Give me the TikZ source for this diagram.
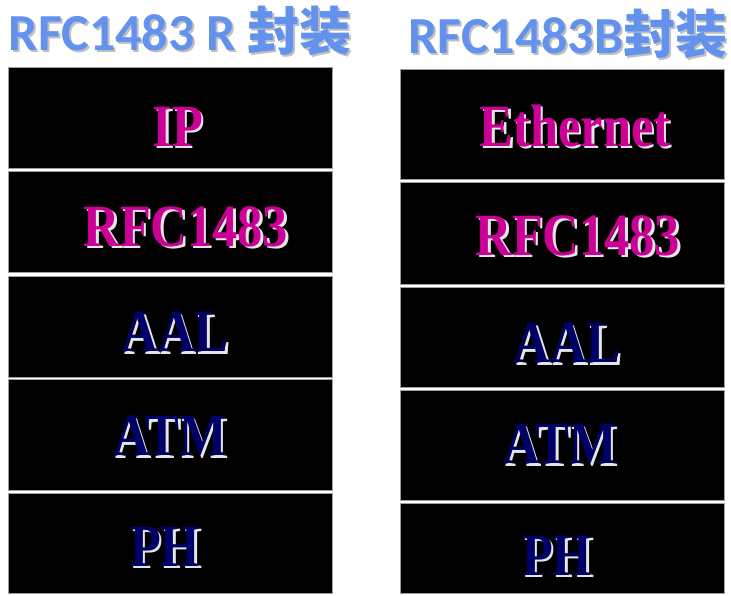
\documentclass[tikz,border=0pt]{standalone}
\usepackage{fontspec}
\usepackage{tikz}
\usetikzlibrary{positioning}

\setmainfont{Liberation Serif}
\newfontfamily\layerfont[FakeStretch=0.84]{Liberation Serif}
\newfontfamily\titlefont{Carlito}
\newfontfamily\cjkfont{Noto Sans CJK SC}

\definecolor{titleblue}{RGB}{98,146,238}
\definecolor{upperpink}{RGB}{204,0,150}
\definecolor{lowernavy}{RGB}{0,0,105}

% text with a light shade behind it, in one box
\newcommand{\shadetext}[4]{%
    \makebox[0pt][l]{\hspace*{#1}\raisebox{-#1}{\textcolor{#2}{#4}}}\textcolor{#3}{#4}}

\begin{document}
\begin{tikzpicture}[x=1pt, y=-1pt]

    % Define the styles for the nodes
    \tikzstyle{layer} = [draw=gray!75, line width=0.8pt, fill=black, minimum width=324, inner sep=0, anchor=north west]
    \tikzstyle{layertext} = [font=\layerfont\bfseries\fontsize{60}{62}\selectfont, inner sep=0]
    \tikzstyle{heading} = [font=\titlefont\bfseries\fontsize{52}{56}\selectfont, inner sep=0]

    \useasboundingbox (0,0) rectangle (731,596);

    % Titles
    \node (titleR) [heading] at (180,32) {\shadetext{2pt}{gray!50}{titleblue}{RFC1483 R {\cjkfont\bfseries 封装}}};
    \node (titleB) [heading] at (568,35) {\shadetext{2pt}{gray!50}{titleblue}{RFC1483B{\cjkfont\bfseries 封装}}};

    % Left stack
    \node (boxR1) [layer, minimum height=101] at (8,67) {};
    \node (boxR2) [layer, minimum height=101] at (8,171) {};
    \node (boxR3) [layer, minimum height=101] at (8,276) {};
    \node (boxR4) [layer, minimum height=111] at (8,379) {};
    \node (boxR5) [layer, minimum height=100] at (8,493) {};

    % Right stack
    \node (boxB1) [layer, minimum height=110] at (400,69) {};
    \node (boxB2) [layer, minimum height=102] at (400,182) {};
    \node (boxB3) [layer, minimum height=100] at (400,287) {};
    \node (boxB4) [layer, minimum height=110] at (400,390) {};
    \node (boxB5) [layer, minimum height=90] at (400,503) {};

    % Labels
    \node (ipR)  [layertext] at (178,128) {\shadetext{2.5pt}{gray!20}{upperpink}{IP}};
    \node (rfcR) [layertext] at (186,228) {\shadetext{2.5pt}{gray!20}{upperpink}{RFC1483}};
    \node (aalR) [layertext] at (175,333) {\shadetext{2.5pt}{gray!20}{lowernavy}{AAL}};
    \node (atmR) [layertext] at (170,437) {\shadetext{2.5pt}{gray!20}{lowernavy}{ATM}};
    \node (phR)  [layertext] at (165,548) {\shadetext{2.5pt}{gray!20}{lowernavy}{PH}};

    \node (ethB) [layertext] at (575,127) {\shadetext{2.5pt}{gray!20}{upperpink}{Ethernet}};
    \node (rfcB) [layertext] at (578,237) {\shadetext{2.5pt}{gray!20}{upperpink}{RFC1483}};
    \node (aalB) [layertext] at (567,344) {\shadetext{2.5pt}{gray!20}{lowernavy}{AAL}};
    \node (atmB) [layertext] at (560,445) {\shadetext{2.5pt}{gray!20}{lowernavy}{ATM}};
    \node (phB)  [layertext] at (557,557) {\shadetext{2.5pt}{gray!20}{lowernavy}{PH}};

\end{tikzpicture}
\end{document}
